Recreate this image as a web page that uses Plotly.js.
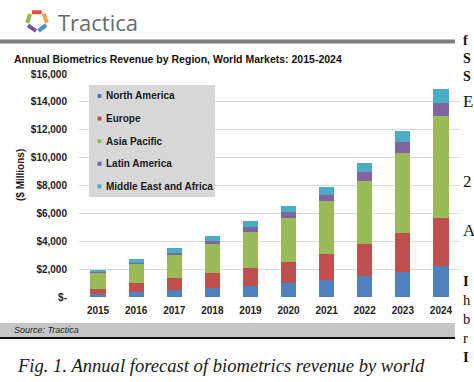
<!DOCTYPE html>
<html>
<head>
<meta charset="utf-8">
<script src="https://cdn.plot.ly/plotly-3.0.1.min.js"></script>
<style>
html,body{margin:0;padding:0;background:#fff;}
#chart{width:474px;height:382px;}
</style>
</head>
<body>
<div id="chart"></div>
<script>
// ---- data ----
const years = ['2015','2016','2017','2018','2019','2020','2021','2022','2023','2024'];
const seriesNames = ['North America','Europe','Asia Pacific','Latin America','Middle East and Africa'];
const northAmerica = [250, 330, 530, 630, 810, 1030, 1220, 1510, 1800, 2240];
const europe       = [350, 640, 800, 1060, 1300, 1510, 1870, 2270, 2780, 3420];
const asiaPacific  = [1100, 1370, 1680, 2110, 2540, 3120, 3770, 4570, 5770, 7330];
const latinAmerica = [100, 120, 170, 220, 340, 410, 480, 630, 770, 910];
const middleEastAfrica = [130, 240, 310, 360, 430, 430, 520, 650, 790, 1020];
const yTickVals = [0, 2000, 4000, 6000, 8000, 10000, 12000, 14000, 16000];
const yTickText = ['$-', '$2,000', '$4,000', '$6,000', '$8,000', '$10,000', '$12,000', '$14,000', '$16,000'];
const colors = ['#4F81BD', '#C0504D', '#9BBB59', '#8064A2', '#4BACC6'];

const chartTitle = 'Annual Biometrics Revenue by Region, World Markets: 2015-2024';
const yTitle = '($ Millions)';
const sourceText = 'Source: Tractica';
const caption1 = 'Fig. 1. Annual forecast of biometrics revenue by world';
const caption2 = 'region [2].';
const brand = 'Tractica';

// ---- layout geometry (pixels) ----
const FW = 474, FH = 382;
const L = 79, R = 460, T = 74, B = 297;
const W = R - L, H = B - T;
const fx = x => (x - L) / W;
const fy = y => (B - y) / H;

const SANS = 'Liberation Sans, Arial, sans-serif';
const SERIF = 'Liberation Serif, Times New Roman, serif';

const allSeries = [northAmerica, europe, asiaPacific, latinAmerica, middleEastAfrica];
const traces = allSeries.map((vals, i) => ({
  type: 'bar',
  name: seriesNames[i],
  x: years,
  y: vals,
  marker: {color: colors[i], line: {width: 0}},
  showlegend: false,
  hoverinfo: 'x+y+name'
}));

const shapes = [];
const annotations = [];

// header gray bar
shapes.push({type:'rect', xref:'paper', yref:'paper', x0:fx(0), x1:fx(455), y0:fy(43.5), y1:fy(39.5), fillcolor:'#7f7f7f', line:{width:0}, layer:'above'});
// source band
shapes.push({type:'rect', xref:'paper', yref:'paper', x0:fx(0), x1:fx(455), y0:fy(337), y1:fy(323), fillcolor:'#C6C6C6', line:{width:0}});
shapes.push({type:'rect', xref:'paper', yref:'paper', x0:fx(0), x1:fx(455), y0:fy(339), y1:fy(337), fillcolor:'#111111', line:{width:0}});

// logo: ring of colored segments
const logoColors = ['#e0503a', '#f2a33a', '#4a90c8', '#7d4f9e', '#8cc04b'];
const cx = 37, cy = 21, rr = 10;
for (let k = 0; k < 5; k++) {
  const a0 = (-120 + 72 * k) * Math.PI / 180;
  const a1 = (-120 + 72 * (k + 1) - 14) * Math.PI / 180;
  shapes.push({type:'line', xref:'paper', yref:'paper',
    x0: fx(cx + rr * Math.cos(a0)), y0: fy(cy + rr * Math.sin(a0)),
    x1: fx(cx + rr * Math.cos(a1)), y1: fy(cy + rr * Math.sin(a1)),
    line:{color: logoColors[k], width: 4}});
}
annotations.push({xref:'paper', yref:'paper', x:fx(56), y:fy(22), xanchor:'left', yanchor:'middle', showarrow:false,
  text: brand, font:{family:'Open Sans, Noto Sans, sans-serif', size:22, color:'#6a6a6a'}});

// chart title
annotations.push({xref:'paper', yref:'paper', x:fx(12), y:fy(59), xanchor:'left', yanchor:'middle', showarrow:false,
  text: chartTitle, font:{family:SANS, size:10.5, color:'#111', weight:700}});

// y axis title
annotations.push({xref:'paper', yref:'paper', x:fx(20), y:fy(175), xanchor:'center', yanchor:'middle', showarrow:false,
  textangle:-90, text: yTitle, font:{family:SANS, size:10, color:'#222', weight:700}});

// legend (manual)
shapes.push({type:'rect', xref:'paper', yref:'paper', x0:fx(89), x1:fx(215), y0:fy(197), y1:fy(85), fillcolor:'#D7D7D7', line:{width:0}, layer:'above'});
seriesNames.forEach((nm, i) => {
  const yc = 96 + i * 22.6;
  shapes.push({type:'rect', xref:'paper', yref:'paper', x0:fx(97.5), x1:fx(101.5), y0:fy(yc + 2), y1:fy(yc - 2), fillcolor:colors[i], line:{width:0}, layer:'above'});
  annotations.push({xref:'paper', yref:'paper', x:fx(104), y:fy(yc), xanchor:'left', yanchor:'middle', showarrow:false,
    text: nm, font:{family:SANS, size:10, color:'#1a1a1a', weight:700}});
});

// source
annotations.push({xref:'paper', yref:'paper', x:fx(12), y:fy(330), xanchor:'left', yanchor:'middle', showarrow:false,
  text: '<i>' + sourceText + '</i>', font:{family:SANS, size:9, color:'#222'}});

// caption
annotations.push({xref:'paper', yref:'paper', x:fx(15), y:fy(365), xanchor:'left', yanchor:'middle', showarrow:false,
  text: '<i>' + caption1 + '</i>', font:{family:SERIF, size:18.6, color:'#1a1a1a'}});
annotations.push({xref:'paper', yref:'paper', x:fx(186), y:fy(392), xanchor:'left', yanchor:'middle', showarrow:false,
  text: '<i>' + caption2 + '</i>', font:{family:SERIF, size:18.6, color:'#1a1a1a'}});

// cropped neighbouring column letters (grouped into line blocks)
const sideBlocks = [
  {text: '<b>f</b><br><b>S</b><br><b>S</b>', y: 58, size: 14},
  {text: 'E', y: 101, size: 17},
  {text: '2', y: 181, size: 17},
  {text: 'A', y: 230, size: 17},
  {text: '<b>I</b><br>h<br>b<br>r<br><b>I</b>', y: 319, size: 14.6}
];
sideBlocks.forEach(s => {
  annotations.push({xref:'paper', yref:'paper', x:fx(461), y:fy(s.y), xanchor:'left', yanchor:'middle', showarrow:false,
    align:'left', text: s.text, font:{family:SERIF, size:s.size, color:'#111'}});
});

const layout = {
  width: FW, height: FH,
  margin: {l: L, r: FW - R, t: T, b: FH - B, pad: 0},
  paper_bgcolor: '#ffffff',
  plot_bgcolor: '#ffffff',
  barmode: 'stack',
  bargap: 0.6,
  showlegend: false,
  xaxis: {
    type: 'category',
    tickvals: years, ticktext: years,
    showgrid: false, zeroline: false, showline: false,
    ticks: 'outside', ticklen: 4, tickcolor: 'rgba(0,0,0,0)',
    tickfont: {family: SANS, size: 10, color: '#222', weight: 700},
    fixedrange: true
  },
  yaxis: {
    range: [0, 16000],
    tickvals: yTickVals, ticktext: yTickText,
    showgrid: true, gridcolor: '#D9D9D9', gridwidth: 1,
    zeroline: false, showline: false,
    ticks: 'outside', ticklen: 9, tickcolor: 'rgba(0,0,0,0)',
    tickfont: {family: SANS, size: 10, color: '#222', weight: 700},
    fixedrange: true
  },
  shapes: shapes,
  annotations: annotations,
  font: {family: SANS}
};

Plotly.newPlot('chart', traces, layout, {displayModeBar: false, staticPlot: true});
</script>
</body>
</html>
